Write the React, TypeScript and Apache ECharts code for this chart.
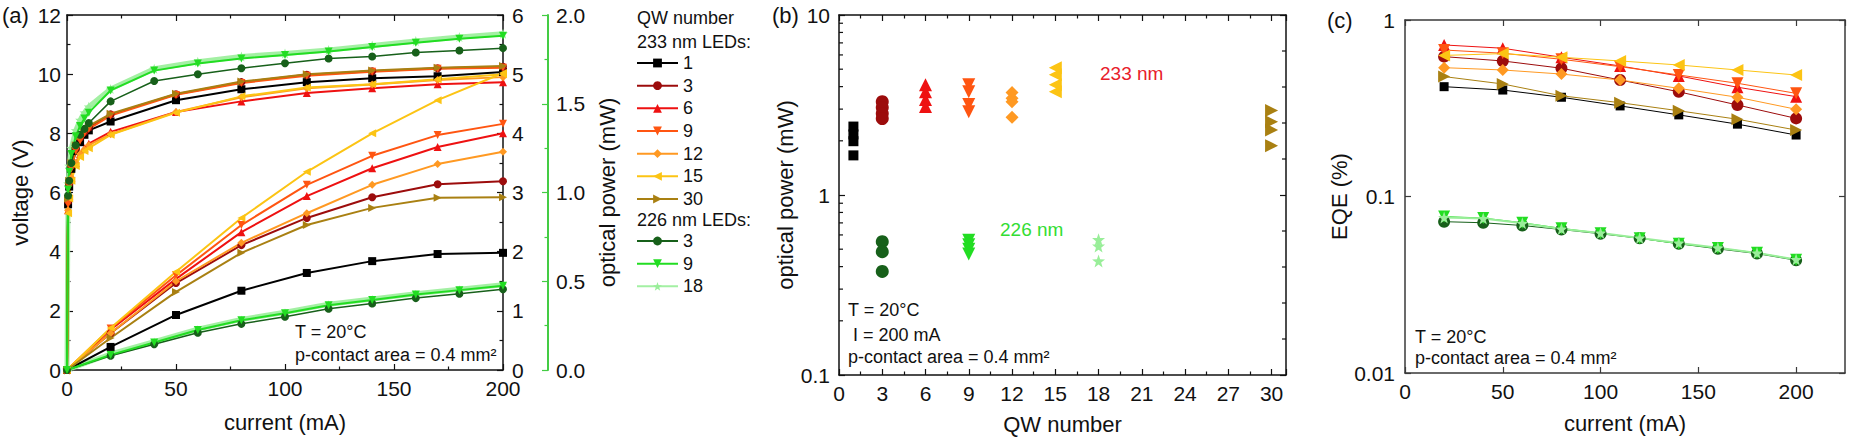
import React, { useEffect, useRef } from "react";
import * as echarts from "echarts";

const FONT = "'Liberation Sans', Arial, Helvetica, sans-serif";

// ---------- (a) voltage and optical power vs. current ----------
const currentV233 = [0, 0.5, 1, 2, 4, 6, 8, 10, 20, 50, 80, 110, 140, 170, 200];
const currentV226 = [0, 0.5, 1, 2, 4, 6, 8, 10, 20, 40, 60, 80, 100, 120, 140, 160, 180, 200];

const voltage233qw1 = [0, 5.6, 6.2, 6.8, 7.4, 7.7, 7.95, 8.1, 8.4, 9.12, 9.49, 9.73, 9.86, 9.93, 10.07];
const voltage233qw3 = [0, 5.7, 6.3, 6.9, 7.5, 7.85, 8.05, 8.2, 8.64, 9.32, 9.73, 9.98, 10.1, 10.2, 10.25];
const voltage233qw6 = [0, 5.4, 5.9, 6.5, 7.0, 7.3, 7.5, 7.65, 8.05, 8.72, 9.08, 9.36, 9.52, 9.66, 9.73];
const voltage233qw9 = [0, 5.6, 6.2, 6.8, 7.4, 7.75, 8.0, 8.15, 8.6, 9.3, 9.7, 9.95, 10.08, 10.18, 10.22];
const voltage233qw12 = [0, 5.4, 5.9, 6.5, 7.0, 7.3, 7.45, 7.6, 7.97, 8.72, 9.22, 9.52, 9.65, 9.8, 9.9];
const voltage233qw15 = [0, 5.3, 5.8, 6.4, 6.9, 7.2, 7.4, 7.5, 7.95, 8.7, 9.25, 9.55, 9.66, 9.83, 10.0];
const voltage233qw30 = [0, 5.8, 6.4, 7.0, 7.6, 7.9, 8.1, 8.25, 8.66, 9.34, 9.75, 10.0, 10.12, 10.22, 10.28];
const voltage226qw3 = [0, 5.9, 6.4, 7.0, 7.6, 7.95, 8.15, 8.35, 9.08, 9.77, 10.0, 10.2, 10.37, 10.53, 10.6, 10.73, 10.8, 10.88];
const voltage226qw9 = [0, 6.1, 6.7, 7.3, 7.9, 8.25, 8.5, 8.7, 9.45, 10.12, 10.36, 10.53, 10.65, 10.77, 10.92, 11.06, 11.2, 11.3];
const voltage226qw18 = [0, 6.3, 6.9, 7.5, 8.1, 8.45, 8.7, 8.9, 9.5, 10.18, 10.42, 10.6, 10.7, 10.82, 10.97, 11.12, 11.26, 11.37];

const currentP233 = [0, 20, 50, 80, 110, 140, 170, 200];
const currentP226 = [0, 20, 40, 60, 80, 100, 120, 140, 160, 180, 200];

const power233qw1 = [0, 0.39, 0.93, 1.34, 1.64, 1.84, 1.96, 1.98];
const power233qw3 = [0, 0.62, 1.47, 2.11, 2.57, 2.92, 3.14, 3.19];
const power233qw6 = [0, 0.68, 1.54, 2.33, 2.94, 3.41, 3.77, 4.0];
const power233qw9 = [0, 0.7, 1.6, 2.45, 3.13, 3.62, 3.97, 4.16];
const power233qw12 = [0, 0.62, 1.5, 2.15, 2.65, 3.13, 3.48, 3.69];
const power233qw15 = [0, 0.71, 1.66, 2.57, 3.35, 4.0, 4.56, 5.02];
const power233qw30 = [0, 0.54, 1.32, 1.98, 2.45, 2.74, 2.91, 2.92];
const power226qw3 = [0, 0.08, 0.145, 0.21, 0.26, 0.3, 0.345, 0.375, 0.405, 0.43, 0.455];
const power226qw9 = [0, 0.085, 0.155, 0.225, 0.28, 0.32, 0.365, 0.395, 0.425, 0.45, 0.475];
const power226qw18 = [0, 0.09, 0.16, 0.23, 0.285, 0.325, 0.37, 0.4, 0.43, 0.455, 0.48];

// ---------- (b) optical power at 200 mA for each wafer position ----------
const power200qw1 = [2.4, 2.17, 1.99, 1.66];
const power200qw3 = [3.3, 3.06, 2.84, 2.66];
const power200qw6 = [4.1, 3.75, 3.39, 3.1];
const power200qw9 = [4.1, 3.75, 3.18, 2.9];
const power200qw12 = [3.71, 3.45, 3.3, 2.7];
const power200qw15 = [5.1, 4.66, 4.1, 3.75];
const power200qw30 = [2.95, 2.55, 2.3, 1.88];
const power200qw3g = [0.55, 0.484, 0.376];
const power200qw9g = [0.56, 0.53, 0.5, 0.47];
const power200qw18g = [0.565, 0.52, 0.43];

// minor ticks of the log axes in (b)
const leftMinorTicksB = [0.2, 0.3, 0.4, 0.5, 0.6, 0.7, 0.8, 0.9, 2, 3, 4, 5, 6, 7, 8, 9];
const rightMinorExponentsB = [-0.8, -0.6, -0.4, -0.2, 0.2, 0.4, 0.6, 0.8];

// ---------- (c) external quantum efficiency vs. current ----------
const currentE233 = [20, 50, 80, 110, 140, 170, 200];
const currentE226 = [20, 40, 60, 80, 100, 120, 140, 160, 180, 200];

const eqe233qw1 = [0.419, 0.401, 0.365, 0.326, 0.29, 0.257, 0.223];
const eqe233qw3 = [0.62, 0.586, 0.533, 0.457, 0.392, 0.33, 0.277];
const eqe233qw6 = [0.722, 0.692, 0.615, 0.549, 0.482, 0.416, 0.368];
const eqe233qw9 = [0.676, 0.648, 0.599, 0.544, 0.488, 0.438, 0.384];
const eqe233qw12 = [0.537, 0.521, 0.494, 0.457, 0.41, 0.365, 0.312];
const eqe233qw15 = [0.63, 0.645, 0.615, 0.586, 0.556, 0.521, 0.488];
const eqe233qw30 = [0.478, 0.434, 0.372, 0.34, 0.306, 0.274, 0.238];
const eqe226qw3 = [0.072, 0.071, 0.0685, 0.065, 0.0615, 0.058, 0.054, 0.0505, 0.0475, 0.0435];
const eqe226qw9 = [0.077, 0.0755, 0.071, 0.066, 0.062, 0.058, 0.054, 0.051, 0.048, 0.0438];
const eqe226qw18 = [0.076, 0.075, 0.0705, 0.0655, 0.0622, 0.0582, 0.0545, 0.0512, 0.0479, 0.044];

const STAR =
  "path://M0,-10L2.35,-3.24L9.51,-3.09L3.8,1.24L5.88,8.09L0,4L-5.88,8.09L-3.8,1.24L-9.51,-3.09L-2.35,-3.24Z";

type Device = {
  id: string;
  label: string;
  wl: 233 | 226;
  qw: number;
  color: string;
  symbol: string;
  rotate: number;
  width: number;
  opacity: number;
  iV: number[];
  v: number[];
  iP: number[];
  p: number[];
  p200: number[];
  iE: number[];
  eqe: number[];
};

const devices: Device[] = [
  { id: "233-1", label: "1", wl: 233, qw: 1, color: "#000000", symbol: "rect", rotate: 0, width: 2, opacity: 1, iV: currentV233, v: voltage233qw1, iP: currentP233, p: power233qw1, p200: power200qw1, iE: currentE233, eqe: eqe233qw1 },
  { id: "233-3", label: "3", wl: 233, qw: 3, color: "#9c0c0c", symbol: "circle", rotate: 0, width: 2, opacity: 1, iV: currentV233, v: voltage233qw3, iP: currentP233, p: power233qw3, p200: power200qw3, iE: currentE233, eqe: eqe233qw3 },
  { id: "233-6", label: "6", wl: 233, qw: 6, color: "#ee1111", symbol: "triangle", rotate: 0, width: 2, opacity: 1, iV: currentV233, v: voltage233qw6, iP: currentP233, p: power233qw6, p200: power200qw6, iE: currentE233, eqe: eqe233qw6 },
  { id: "233-9", label: "9", wl: 233, qw: 9, color: "#ff5511", symbol: "triangle", rotate: 180, width: 2, opacity: 1, iV: currentV233, v: voltage233qw9, iP: currentP233, p: power233qw9, p200: power200qw9, iE: currentE233, eqe: eqe233qw9 },
  { id: "233-12", label: "12", wl: 233, qw: 12, color: "#ff9922", symbol: "diamond", rotate: 0, width: 2, opacity: 1, iV: currentV233, v: voltage233qw12, iP: currentP233, p: power233qw12, p200: power200qw12, iE: currentE233, eqe: eqe233qw12 },
  { id: "233-15", label: "15", wl: 233, qw: 15, color: "#fcc414", symbol: "triangle", rotate: 90, width: 2, opacity: 1, iV: currentV233, v: voltage233qw15, iP: currentP233, p: power233qw15, p200: power200qw15, iE: currentE233, eqe: eqe233qw15 },
  { id: "233-30", label: "30", wl: 233, qw: 30, color: "#a98012", symbol: "triangle", rotate: -90, width: 2, opacity: 1, iV: currentV233, v: voltage233qw30, iP: currentP233, p: power233qw30, p200: power200qw30, iE: currentE233, eqe: eqe233qw30 },
  { id: "226-3", label: "3", wl: 226, qw: 3, color: "#17601a", symbol: "circle", rotate: 0, width: 1.5, opacity: 1, iV: currentV226, v: voltage226qw3, iP: currentP226, p: power226qw3, p200: power200qw3g, iE: currentE226, eqe: eqe226qw3 },
  { id: "226-9", label: "9", wl: 226, qw: 9, color: "#22dd22", symbol: "triangle", rotate: 180, width: 2, opacity: 1, iV: currentV226, v: voltage226qw9, iP: currentP226, p: power226qw9, p200: power200qw9g, iE: currentE226, eqe: eqe226qw9 },
  { id: "226-18", label: "18", wl: 226, qw: 18, color: "#99ee99", symbol: STAR, rotate: 0, width: 5, opacity: 0.9, iV: currentV226, v: voltage226qw18, iP: currentP226, p: power226qw18, p200: power200qw18g, iE: currentE226, eqe: eqe226qw18 },
];

const zip = (xs: number[], ys: number[]) => ys.map((y, i) => [xs[i], y]);

function axisBase(color: string) {
  return {
    axisLine: { show: true, onZero: false, lineStyle: { color, width: 1.5 } },
    axisTick: { show: true, inside: true, length: 6, lineStyle: { color, width: 1.2 } },
    splitLine: { show: false },
    axisLabel: { fontFamily: FONT, fontSize: 21, color: "#111" },
    nameTextStyle: { fontFamily: FONT, fontSize: 22, color: "#111" },
  };
}

const minor = (color: string, n: number) => ({
  show: true,
  splitNumber: n,
  length: 3.5,
  lineStyle: { color, width: 1.2 },
});

function buildOption(): any {
  const black = "#111111";
  const gray = "#3a3a3a";
  const green = "#44cc44";

  const xAxis: any[] = [
    { ...axisBase(black), gridIndex: 0, type: "value", min: 0, max: 200, interval: 50, position: "bottom",
      minorTick: minor(black, 2), name: "current (mA)", nameLocation: "middle", nameGap: 41 },
    { ...axisBase(black), gridIndex: 0, type: "value", min: 0, max: 200, interval: 50, position: "top",
      minorTick: minor(black, 2), axisLabel: { show: false } },
    { ...axisBase(black), gridIndex: 1, type: "value", min: 0, max: 31, interval: 3, position: "bottom",
      minorTick: minor(black, 2), axisLabel: { ...axisBase(black).axisLabel, showMaxLabel: false },
      name: "QW number", nameLocation: "middle", nameGap: 38 },
    { ...axisBase(black), gridIndex: 1, type: "value", min: 0, max: 31, interval: 3, position: "top",
      minorTick: minor(black, 2), axisLabel: { show: false } },
    { ...axisBase(gray), gridIndex: 2, type: "value", min: 0, max: 225, interval: 50, position: "bottom",
      axisLabel: { ...axisBase(gray).axisLabel, showMaxLabel: false },
      name: "current (mA)", nameLocation: "middle", nameGap: 39 },
    { ...axisBase(gray), gridIndex: 2, type: "value", min: 0, max: 225, interval: 50, position: "top",
      axisLabel: { show: false } },
  ];

  const yAxis: any[] = [
    { ...axisBase(black), gridIndex: 0, type: "value", min: 0, max: 12, interval: 2, position: "left",
      minorTick: minor(black, 2), axisLabel: { ...axisBase(black).axisLabel, margin: 6 },
      name: "voltage (V)", nameLocation: "middle", nameGap: 36 },
    { ...axisBase(black), gridIndex: 0, type: "value", min: 0, max: 6, interval: 1, position: "right",
      minorTick: minor(black, 2), axisLabel: { ...axisBase(black).axisLabel, margin: 9 } },
    { ...axisBase(green), gridIndex: 0, type: "value", min: 0, max: 2, interval: 0.5, position: "right", offset: 45,
      axisLine: { show: true, onZero: false, lineStyle: { color: green, width: 2 } },
      minorTick: minor(green, 2),
      axisLabel: { ...axisBase(black).axisLabel, margin: 8, formatter: (v: number) => v.toFixed(1) },
      name: "optical power (mW)", nameLocation: "middle", nameGap: 48 },
    { ...axisBase(black), gridIndex: 1, type: "log", logBase: 10, min: 0.1, max: 10, position: "left",
      axisLabel: { ...axisBase(black).axisLabel, margin: 9, formatter: (v: number) => String(v) },
      name: "optical power (mW)", nameLocation: "middle", nameGap: 43 },
    { ...axisBase(black), gridIndex: 1, type: "log", logBase: 10, min: 0.1, max: 10, position: "right",
      axisLabel: { show: false } },
    { ...axisBase(gray), gridIndex: 2, type: "log", logBase: 10, min: 0.01, max: 1, position: "left",
      axisLabel: { ...axisBase(gray).axisLabel, margin: 10, formatter: (v: number) => String(v) },
      name: "EQE (%)", nameLocation: "middle", nameGap: 55 },
    { ...axisBase(gray), gridIndex: 2, type: "log", logBase: 10, min: 0.01, max: 1, position: "right",
      axisLabel: { show: false } },
  ];

  const series: any[] = [];
  const common = (d: Device) => ({
    name: d.id,
    symbol: d.symbol,
    symbolRotate: d.rotate,
    itemStyle: { color: d.color, opacity: 1 },
    animation: false,
  });

  // (a) voltage curves first, so the legend takes its icons from them
  for (const d of devices) {
    series.push({
      ...common(d), type: "line", xAxisIndex: 0, yAxisIndex: 0,
      symbolSize: d.wl === 226 && d.qw === 18 ? 10 : 8,
      lineStyle: { color: d.color, width: d.width, opacity: d.opacity },
      data: zip(d.iV, d.v), z: d.wl === 226 && d.qw === 18 ? 1 : 3,
    });
  }
  for (const d of devices) {
    series.push({
      ...common(d), type: "line", xAxisIndex: 0, yAxisIndex: d.wl === 233 ? 1 : 2,
      symbolSize: 8,
      lineStyle: { color: d.color, width: d.width, opacity: d.opacity },
      data: zip(d.iP, d.p), z: d.wl === 226 && d.qw === 18 ? 1 : 3,
    });
  }
  // (b) scatter of several devices per QW number
  for (const d of devices) {
    series.push({
      ...common(d), type: "scatter", xAxisIndex: 2, yAxisIndex: 3,
      symbolSize: d.symbol === "rect" ? 10 : 13,
      data: d.p200.map((v) => [d.qw, v]),
    });
  }
  series.push({
    type: "custom", name: "minor-ticks-b", xAxisIndex: 2, yAxisIndex: 3, silent: true, clip: false, z: 10,
    data: [
      ...leftMinorTicksB.map((v) => [0, v, 1]),
      ...rightMinorExponentsB.map((e) => [31, Math.pow(10, e), -1]),
    ],
    renderItem: (_p: any, api: any) => {
      const pt = api.coord([api.value(0), api.value(1)]);
      const dir = api.value(2);
      return {
        type: "line",
        shape: { x1: pt[0], y1: pt[1], x2: pt[0] + dir * 4, y2: pt[1] },
        style: { stroke: black, lineWidth: 1.2 },
      };
    },
  });
  // (c) EQE
  for (const d of devices) {
    series.push({
      ...common(d), type: "line", xAxisIndex: 4, yAxisIndex: 5,
      symbolSize: d.symbol === "rect" ? 9 : 12,
      lineStyle: { color: d.color, width: d.wl === 226 && d.qw === 18 ? 2 : 1 },
      data: zip(d.iE, d.eqe),
    });
  }

  const labelOf: Record<string, string> = {};
  devices.forEach((d) => (labelOf[d.id] = d.label));

  const legendBase = {
    orient: "vertical",
    left: 636,
    itemWidth: 41,
    itemHeight: 11,
    itemGap: 0.67,
    padding: 0,
    selectedMode: false,
    formatter: (name: string) => labelOf[name],
    textStyle: { fontFamily: FONT, fontSize: 18, color: "#111", lineHeight: 22 },
  };

  const txt = (text: string, x: number, y: number, size = 18, fill = "#111") => ({
    type: "text",
    x,
    y,
    silent: true,
    style: {
      text,
      font: `${size}px ${FONT}`,
      fill,
      textAlign: "left",
      textVerticalAlign: "middle",
      align: "left",
      verticalAlign: "middle",
    },
  });

  return {
    animation: false,
    backgroundColor: "#ffffff",
    grid: [
      { left: 67, top: 15, width: 436, height: 355 },
      { left: 839, top: 15, width: 447, height: 361 },
      { left: 1405, top: 20, width: 440, height: 353 },
    ],
    xAxis,
    yAxis,
    legend: [
      { ...legendBase, top: 52, data: devices.filter((d) => d.wl === 233).map((d) => d.id) },
      { ...legendBase, top: 230, data: devices.filter((d) => d.wl === 226).map((d) => d.id) },
    ],
    graphic: [
      txt("(a)", 2, 15, 22),
      txt("(b)", 772, 15, 22),
      txt("(c)", 1327, 20, 22),
      txt("QW number", 637, 18),
      txt("233 nm LEDs:", 637, 42),
      txt("226 nm LEDs:", 637, 220),
      txt("T = 20°C", 295, 332),
      txt("p-contact area = 0.4 mm²", 295, 355),
      txt("233 nm", 1100, 73, 19, "#e8202a"),
      txt("226 nm", 1000, 229, 19, "#33dd33"),
      txt("T = 20°C", 848, 310),
      txt("I = 200 mA", 853, 335),
      txt("p-contact area = 0.4 mm²", 848, 357),
      txt("T = 20°C", 1415, 337),
      txt("p-contact area = 0.4 mm²", 1415, 358),
    ],
    series,
  };
}

export default function App() {
  const ref = useRef<HTMLDivElement>(null);
  useEffect(() => {
    document.body.style.margin = "0";
    const chart = echarts.init(ref.current as HTMLDivElement, null, { renderer: "svg" });
    chart.setOption(buildOption());
    return () => chart.dispose();
  }, []);
  return <div ref={ref} style={{ width: 1850, height: 440 }} />;
}
